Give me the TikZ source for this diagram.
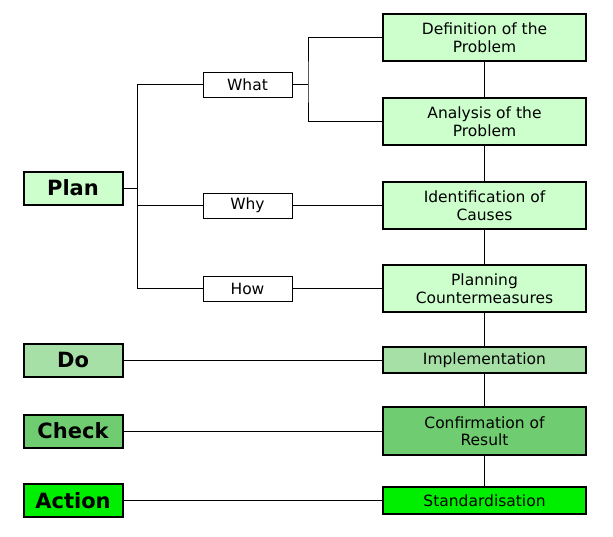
\documentclass[tikz,border=0pt]{standalone}
\usepackage{fontspec}
\setmainfont{DejaVu Sans}
\begin{document}
\begin{tikzpicture}[x=1pt,y=-1pt,
  bx/.style={draw,line width=2pt,inner sep=0pt,align=center,font=\fontsize{15.5}{17.5}\selectfont},
  lbx/.style={draw,line width=2pt,inner sep=0pt,font=\bfseries\fontsize{21}{24}\selectfont,minimum width=99pt,minimum height=33pt},
  sbx/.style={draw,line width=0.7pt,inner sep=0pt,font=\fontsize{15.5}{17.5}\selectfont,minimum width=89pt,minimum height=25pt},
  ln/.style={line width=0.9pt}]
\useasboundingbox (0,0) rectangle (613,536);
\definecolor{lg}{HTML}{CCFFCC}
\definecolor{dg}{HTML}{A6E0A6}
\definecolor{cg}{HTML}{70CC70}
\definecolor{ag}{HTML}{00EE00}
\node[lbx,fill=lg] (plan) at (73,188) {Plan};
\node[lbx,fill=dg] (do) at (73,360) {Do};
\node[lbx,fill=cg] (check) at (73,431) {Check};
\node[lbx,fill=ag] (action) at (73,500.5) {Action};
\node[sbx] (what) at (247.5,84.5) {What};
\node[sbx] (why) at (247.5,205.5) {Why};
\node[sbx] (how) at (247.5,288.5) {How};
\begin{scope}[every node/.append style={minimum width=203pt}]
\node[bx,fill=lg,minimum height=47pt] (def) at (484.5,37.5) {Definition of the\\Problem};
\node[bx,fill=lg,minimum height=47pt] (ana) at (484.5,121.5) {Analysis of the\\Problem};
\node[bx,fill=lg,minimum height=47pt] (ide) at (484.5,205.5) {Identification of\\Causes};
\node[bx,fill=lg,minimum height=47pt] (pla) at (484.5,288.5) {Planning\\Countermeasures};
\node[bx,fill=dg,minimum height=26pt] (imp) at (484.5,360) {Implementation};
\node[bx,fill=cg,minimum height=48pt] (con) at (484.5,431) {Confirmation of\\Result};
\node[bx,fill=ag,minimum height=27pt] (std) at (484.5,500.5) {Standardisation};
\end{scope}
\coordinate (pj) at (137,188);
\draw[ln] (plan.east) -- (pj);
\draw[ln] (what.west) -| (pj);
\draw[ln] (how.west) -| (pj);
\draw[ln] (why.west) -- (why.west -| pj);
\draw[ln] (what.east) -- (308,84.5);
\draw[ln] (def.west) -| (308,84.5) |- (ana.west);
\draw[ln] (why.east) -- (ide.west);
\draw[ln] (how.east) -- (pla.west);
\draw[ln] (do.east) -- (imp.west);
\draw[ln] (check.east) -- (con.west);
\draw[ln] (action.east) -- (std.west);
\draw[ln] (def.south) -- (ana.north);
\draw[ln] (ana.south) -- (ide.north);
\draw[ln] (ide.south) -- (pla.north);
\draw[ln] (pla.south) -- (imp.north);
\draw[ln] (imp.south) -- (con.north);
\draw[ln] (con.south) -- (std.north);
\end{tikzpicture}
\end{document}
